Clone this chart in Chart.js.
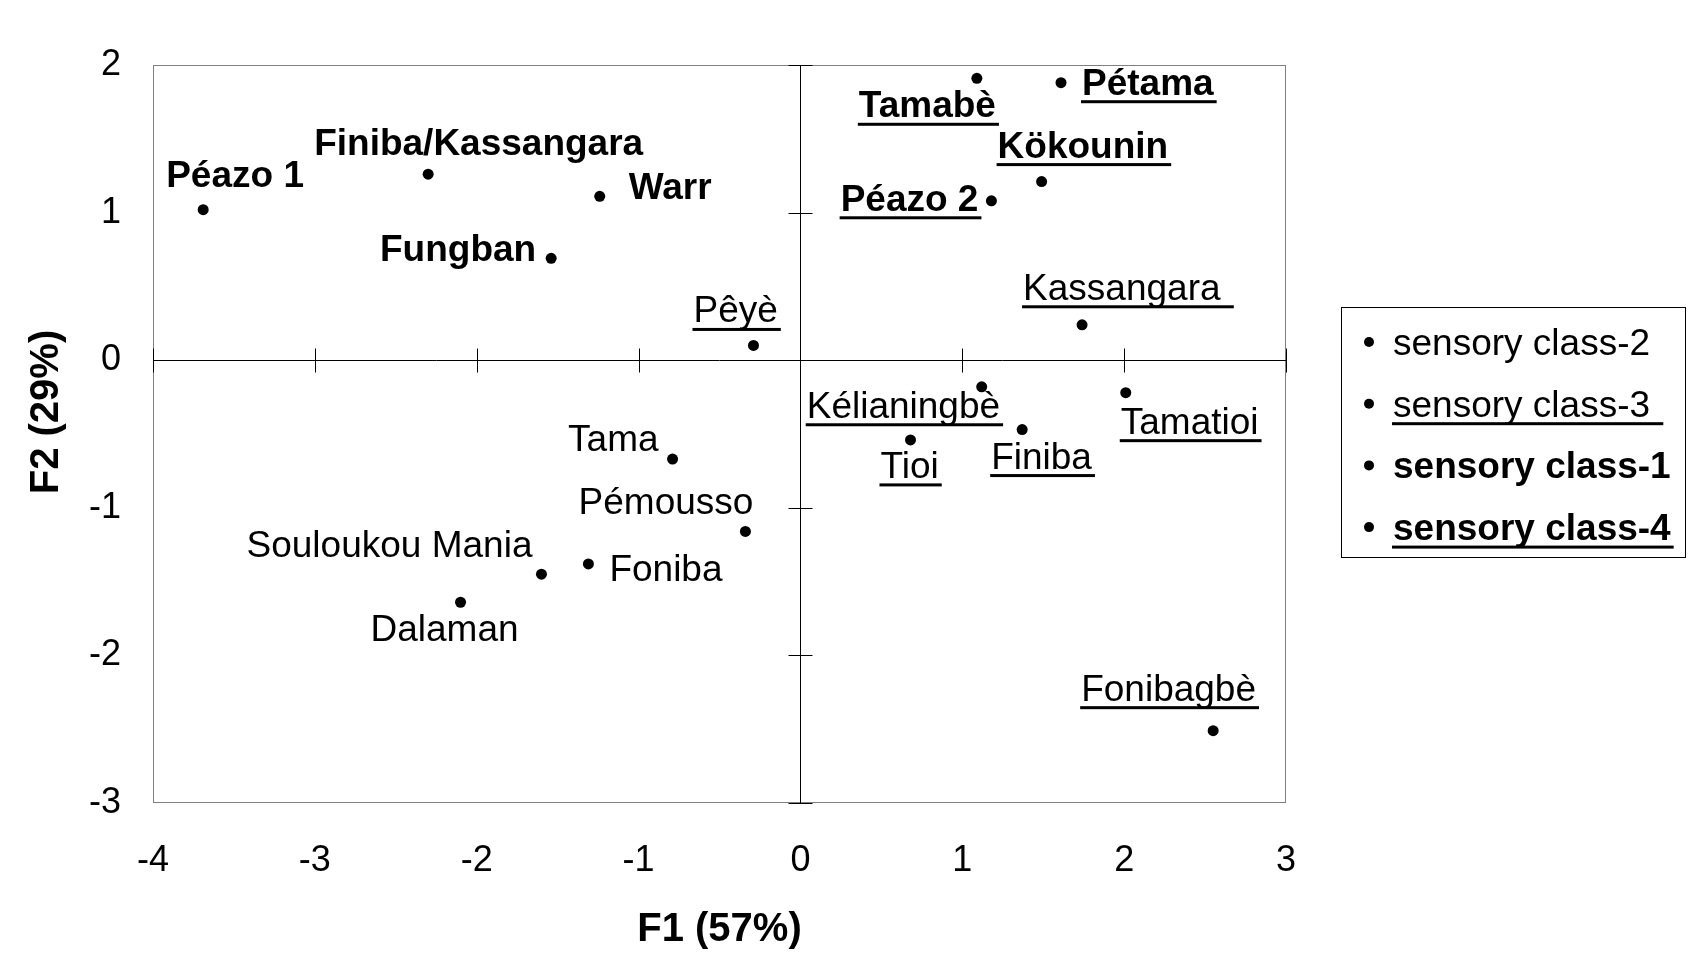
<!DOCTYPE html>
<html>
<head>
<meta charset="utf-8">
<script src="https://cdn.jsdelivr.net/npm/chart.js@4.4.1/dist/chart.umd.min.js"></script>
<style>
html,body{margin:0;padding:0;background:#ffffff;}
canvas{display:block;}
</style>
</head>
<body>
<canvas id="c" width="1704" height="955"></canvas>
<script>
// ---------------- DATA ----------------
const class1Names = ['Péazo 1', 'Finiba/Kassangara', 'Warr', 'Fungban'];
const class1F1 = [-3.69, -2.30, -1.24, -1.54];
const class1F2 = [1.02, 1.26, 1.11, 0.69];

const class2Names = ['Tama', 'Pémousso', 'Foniba', 'Souloukou Mania', 'Dalaman'];
const class2F1 = [-0.79, -0.34, -1.31, -1.60, -2.10];
const class2F2 = [-0.67, -1.16, -1.38, -1.45, -1.64];

const class3Names = ['Pêyè', 'Kassangara ', 'Kélianingbè', 'Tioi', 'Finiba', 'Tamatioi', 'Fonibagbè'];
const class3F1 = [-0.29, 1.74, 1.12, 0.68, 1.37, 2.01, 2.55];
const class3F2 = [0.10, 0.24, -0.18, -0.54, -0.47, -0.22, -2.51];

const class4Names = ['Tamabè', 'Pétama', 'Kökounin', 'Péazo 2'];
const class4F1 = [1.09, 1.61, 1.49, 1.18];
const class4F2 = [1.91, 1.88, 1.21, 1.08];

const legendLabels = ['sensory class-2', 'sensory class-3 ', 'sensory class-1', 'sensory class-4'];
const xTickValues = [-4, -3, -2, -1, 0, 1, 2, 3];
const yTickValues = [-3, -2, -1, 0, 1, 2];
const xTitle = 'F1 (57%)';
const yTitle = 'F2 (29%)';

// ---------------- STYLE / LAYOUT ----------------
const FONT = "'Liberation Sans', Arial, Helvetica, sans-serif";
const LABEL_SIZE = 37;
// label placement relative to point: align of text, dx (px), dy = offset of text middle (px)
const labelPlacement = {
  'Péazo 1': ['left', -37, -36],
  'Finiba/Kassangara': ['left', -114, -32],
  'Warr': ['left', 29, -10],
  'Fungban': ['right', -15, -10],
  'Tama': ['right', -14, -21],
  'Pémousso': ['right', 8, -30],
  'Foniba': ['left', 21, 4],
  'Souloukou Mania': ['right', -9, -30],
  'Dalaman': ['center', -16, 26],
  'Pêyè': ['left', -60, -36],
  'Kassangara ': ['left', -59, -38],
  'Kélianingbè': ['left', -175, 18],
  'Tioi': ['left', -30, 25],
  'Finiba': ['left', -31, 26],
  'Tamatioi': ['left', -5, 28],
  'Fonibagbè': ['left', -132, -43],
  'Tamabè': ['left', -118, 26],
  'Pétama': ['left', 21, -1],
  'Kökounin': ['left', -44, -37],
  'Péazo 2': ['right', -13, -3]
};

function makePoints(f1, f2) { return f1.map((v, i) => ({ x: v, y: f2[i] })); }

// legend order: class-2, class-3, class-1, class-4
const seriesDefs = [
  { label: legendLabels[0], names: class2Names, pts: makePoints(class2F1, class2F2), bold: false, underline: false },
  { label: legendLabels[1], names: class3Names, pts: makePoints(class3F1, class3F2), bold: false, underline: true },
  { label: legendLabels[2], names: class1Names, pts: makePoints(class1F1, class1F2), bold: true, underline: false },
  { label: legendLabels[3], names: class4Names, pts: makePoints(class4F1, class4F2), bold: true, underline: true }
];

function fontStr(bold, size) { return (bold ? 'bold ' : '') + size + 'px ' + FONT; }

function drawText(ctx, text, x, yMid, align, bold, underline) {
  ctx.font = fontStr(bold, LABEL_SIZE);
  ctx.textBaseline = 'alphabetic';
  const w = ctx.measureText(text).width;
  let left = x;
  if (align === 'right') left = x - w;
  else if (align === 'center') left = x - w / 2;
  const base = yMid + 13;
  ctx.textAlign = 'left';
  ctx.fillText(text, left, base);
  if (underline) {
    ctx.fillRect(left - 1, base + 5.5, w + 4, 3);
  }
}

const framePlugin = {
  id: 'frame',
  beforeDatasetsDraw(chart) {
    const { ctx, chartArea: a, scales: { x, y } } = chart;
    ctx.save();
    ctx.strokeStyle = '#808080';
    ctx.lineWidth = 1;
    ctx.strokeRect(a.left + 0.5, a.top + 0.5, a.right - a.left - 1, a.bottom - a.top - 1);
    const x0 = Math.round(x.getPixelForValue(0)) + 0.5;
    const y0 = Math.round(y.getPixelForValue(0)) + 0.5;
    ctx.strokeStyle = '#000';
    ctx.beginPath();
    ctx.moveTo(x0, a.top); ctx.lineTo(x0, a.bottom);
    ctx.moveTo(a.left, y0); ctx.lineTo(a.right, y0);
    xTickValues.forEach(v => {
      const px = Math.round(x.getPixelForValue(v)) + 0.5;
      ctx.moveTo(px, y0 - 12); ctx.lineTo(px, y0 + 12);
    });
    yTickValues.forEach(v => {
      const py = Math.round(y.getPixelForValue(v)) + 0.5;
      ctx.moveTo(x0 - 12, py); ctx.lineTo(x0 + 12, py);
    });
    ctx.stroke();
    ctx.restore();
  }
};

const labelPlugin = {
  id: 'pointLabels',
  afterDatasetsDraw(chart) {
    const { ctx } = chart;
    ctx.save();
    ctx.fillStyle = '#000';
    chart.data.datasets.forEach((ds, di) => {
      const meta = chart.getDatasetMeta(di);
      const def = seriesDefs[di];
      meta.data.forEach((el, i) => {
        const name = def.names[i];
        const p = labelPlacement[name] || ['left', 8, 0];
        drawText(ctx, name, el.x + p[1], el.y + p[2], p[0], def.bold, def.underline);
      });
    });
    ctx.restore();
  }
};

const legendPlugin = {
  id: 'customLegend',
  afterDraw(chart) {
    const { ctx, chartArea: a } = chart;
    ctx.save();
    // legend box
    ctx.strokeStyle = '#000';
    ctx.lineWidth = 1;
    ctx.strokeRect(1341.5, 307.5, 344, 250);
    ctx.fillStyle = '#000';
    seriesDefs.forEach((d, i) => {
      const cy = 342 + i * 61.7;
      ctx.beginPath();
      ctx.arc(1369, cy, 5, 0, Math.PI * 2);
      ctx.fill();
      drawText(ctx, d.label, 1393, cy, 'left', d.bold, d.underline);
    });
    // y axis title
    ctx.translate(47, (a.top + a.bottom) / 2 - 22);
    ctx.rotate(-Math.PI / 2);
    ctx.font = fontStr(true, 40);
    ctx.textAlign = 'center';
    ctx.textBaseline = 'middle';
    ctx.fillText(yTitle, 0, 0);
    ctx.restore();
  }
};

const chart = new Chart(document.getElementById('c'), {
  type: 'scatter',
  data: {
    datasets: seriesDefs.map(d => ({
      label: d.label,
      data: d.pts,
      backgroundColor: '#000',
      borderColor: '#000',
      borderWidth: 0,
      pointRadius: 5.5,
      pointHoverRadius: 5.5,
      pointStyle: 'circle'
    }))
  },
  options: {
    responsive: false,
    animation: false,
    devicePixelRatio: 1,
    layout: { padding: { left: 0, top: 65, right: 418, bottom: 0 } },
    scales: {
      x: {
        type: 'linear', min: -4, max: 3,
        afterBuildTicks: s => { s.ticks = xTickValues.map(v => ({ value: v })); },
        afterFit: s => { s.height = 152; },
        grid: { display: false, drawTicks: false },
        border: { display: false },
        ticks: { color: '#000', font: { family: FONT, size: 36 }, padding: 36 },
        title: { display: true, text: xTitle, color: '#000', font: { family: FONT, size: 40, weight: 'bold' }, padding: { top: 0, bottom: 1 } }
      },
      y: {
        type: 'linear', min: -3, max: 2,
        afterBuildTicks: s => { s.ticks = yTickValues.map(v => ({ value: v })); },
        afterFit: s => { s.width = 153; },
        grid: { display: false, drawTicks: false },
        border: { display: false },
        ticks: { color: '#000', font: { family: FONT, size: 36 }, padding: 32, labelOffset: 0 },
        title: { display: false }
      }
    },
    plugins: { legend: { display: false }, tooltip: { enabled: false } }
  },
  plugins: [framePlugin, labelPlugin, legendPlugin]
});
</script>
</body>
</html>
